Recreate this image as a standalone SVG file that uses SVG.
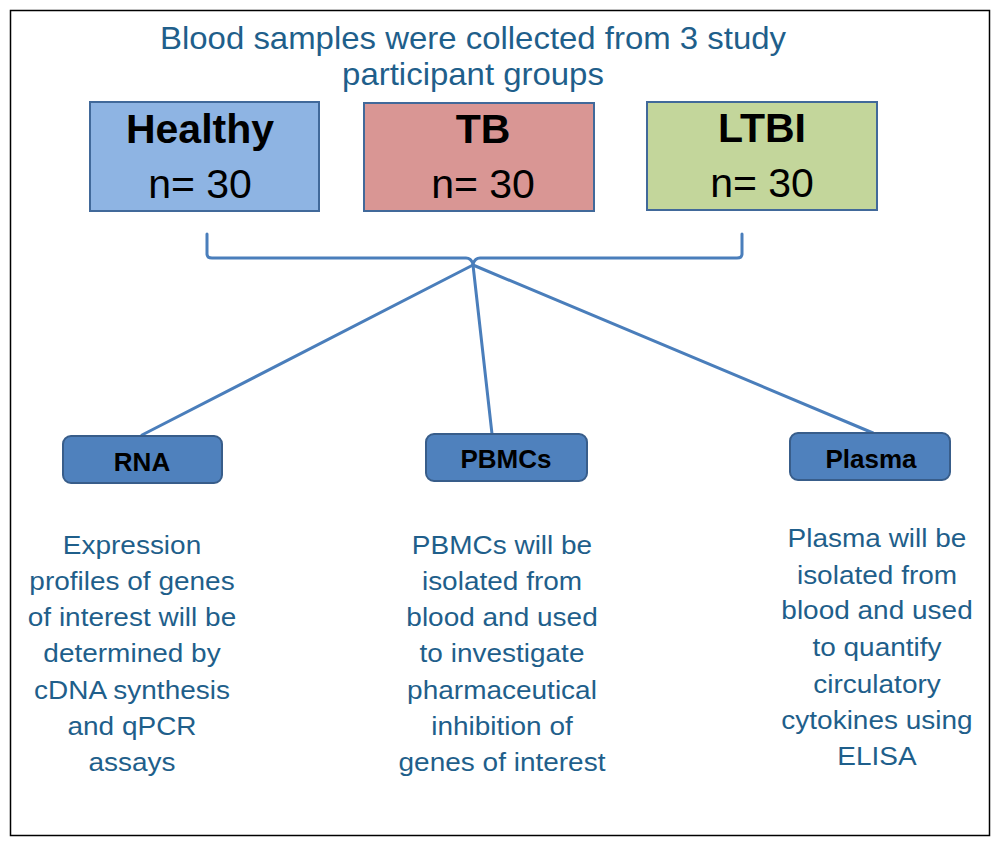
<svg xmlns="http://www.w3.org/2000/svg" width="1000" height="847" viewBox="0 0 1000 847">
<style>
.title{font-family:"Liberation Sans",Arial,sans-serif;font-size:30.5px;fill:#1f5f8b;text-anchor:middle}
.body{font-family:"Liberation Sans",Arial,sans-serif;font-size:26px;fill:#1f5f8b;text-anchor:middle}
.grp{stroke:#41699a;stroke-width:2}
.hd{font-family:"Liberation Sans",Arial,sans-serif;font-weight:bold;font-size:41px;fill:#000;text-anchor:middle}
.n{font-family:"Liberation Sans",Arial,sans-serif;font-size:41px;fill:#000;text-anchor:middle}
.sm{fill:#4f81bd;stroke:#385d8a;stroke-width:2}
.sl{font-family:"Liberation Sans",Arial,sans-serif;font-weight:bold;font-size:26px;fill:#000;text-anchor:middle}
.conn{fill:none;stroke:#4a7ebb;stroke-width:3;stroke-linecap:round;stroke-linejoin:round}
</style>
<rect x="0" y="0" width="1000" height="847" fill="#fff"/>
<rect x="10.5" y="10.5" width="979" height="825" fill="none" stroke="#000" stroke-width="1.5"/>
<g id="title" transform="translate(473,0) scale(1.08,1)">
<text class="title" x="0" y="49">Blood samples were collected from 3 study</text>
<text class="title" x="0" y="85">participant groups</text>
</g>
<g id="healthy">
<rect class="grp" x="90" y="102" width="229" height="109" fill="#8eb4e3"/>
<text class="hd" x="200" y="143">Healthy</text>
<text class="n" x="200" y="198">n= 30</text>
</g>
<g id="tb">
<rect class="grp" x="364" y="103" width="230" height="108" fill="#d99694"/>
<text class="hd" x="483" y="143">TB</text>
<text class="n" x="483" y="198">n= 30</text>
</g>
<g id="ltbi">
<rect class="grp" x="647" y="102" width="230" height="108" fill="#c3d69b"/>
<text class="hd" x="762" y="142">LTBI</text>
<text class="n" x="762" y="197">n= 30</text>
</g>
<g id="connectors">
<path class="conn" d="M207,234 L207,254 Q207,258 212,258 L466,258 Q471,258 473,264 Q475,258 480,258 L737,258 Q742,258 742,254 L742,234"/>
<path class="conn" d="M473,265 L142,435"/>
<path class="conn" d="M473,265 L492,434"/>
<path class="conn" d="M473,265 L873,433"/>
</g>
<g id="rna">
<rect class="sm" x="63" y="436" width="159" height="47" rx="8"/>
<text class="sl" x="142" y="471">RNA</text>
</g>
<g id="pbmcs">
<rect class="sm" x="426" y="434" width="161" height="47" rx="8"/>
<text class="sl" x="506" y="468">PBMCs</text>
</g>
<g id="plasma">
<rect class="sm" x="790" y="433" width="160" height="47" rx="8"/>
<text class="sl" x="871" y="468">Plasma</text>
</g>
<g id="rna-text" transform="translate(132,0) scale(1.077,1)">
<text class="body" x="0" y="554">Expression</text>
<text class="body" x="0" y="590">profiles of genes</text>
<text class="body" x="0" y="626">of interest will be</text>
<text class="body" x="0" y="662">determined by</text>
<text class="body" x="0" y="699">cDNA synthesis</text>
<text class="body" x="0" y="735">and qPCR</text>
<text class="body" x="0" y="771">assays</text>
</g>
<g id="pbmcs-text" transform="translate(502,0) scale(1.077,1)">
<text class="body" x="0" y="554">PBMCs will be</text>
<text class="body" x="0" y="590">isolated from</text>
<text class="body" x="0" y="626">blood and used</text>
<text class="body" x="0" y="662">to investigate</text>
<text class="body" x="0" y="699">pharmaceutical</text>
<text class="body" x="0" y="735">inhibition of</text>
<text class="body" x="0" y="771">genes of interest</text>
</g>
<g id="plasma-text" transform="translate(877,0) scale(1.077,1)">
<text class="body" x="0" y="547">Plasma will be</text>
<text class="body" x="0" y="584">isolated from</text>
<text class="body" x="0" y="619">blood and used</text>
<text class="body" x="0" y="656">to quantify</text>
<text class="body" x="0" y="693">circulatory</text>
<text class="body" x="0" y="729">cytokines using</text>
<text class="body" x="0" y="765">ELISA</text>
</g>
</svg>
